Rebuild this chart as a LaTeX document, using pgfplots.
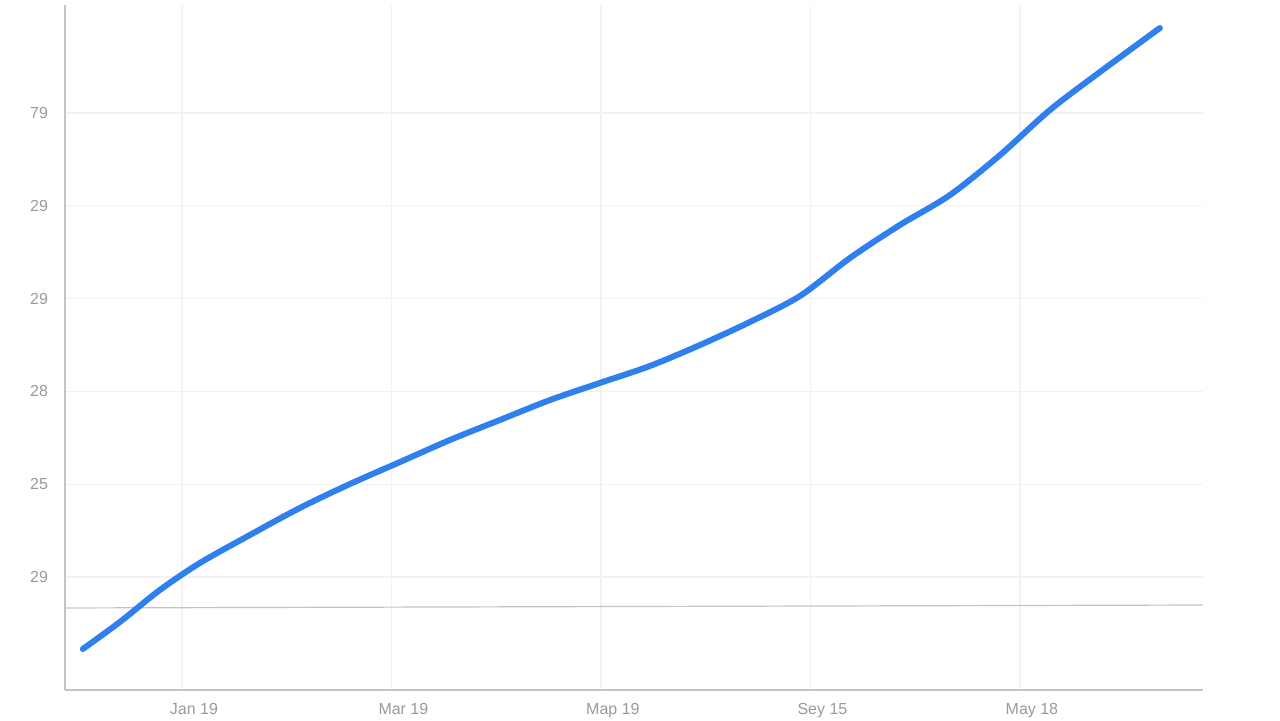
\documentclass[border=0pt]{standalone}
\usepackage{pgfplots}
\pgfplotsset{compat=1.18}
\usepackage{fontspec}
\setmainfont{Liberation Sans}
\definecolor{curveblue}{HTML}{2F80EE}
\definecolor{axisgray}{HTML}{C4C4C4}
\definecolor{gridgray}{HTML}{F2F2F2}
\definecolor{labelgray}{HTML}{9A9A9A}
\begin{document}
\begin{tikzpicture}
\useasboundingbox (0,0) rectangle (640pt,360pt);
\begin{axis}[
    at={(32.5pt,15pt)}, anchor=south west,
    scale only axis,
    width=569pt, height=342.5pt,
    xmin=-0.558, xmax=4.874,
    ymin=-1.218, ymax=6.164,
    axis x line*=bottom, axis y line*=left,
    axis line style={axisgray, line width=1pt, -},
    xtick={0,1,2,3,4},
    xticklabels={Jan 19, Mar 19, Map 19, Sey 15, May 18},
    ytick={0,1,2,3,4,5},
    yticklabels={29, 25, 28, 29, 29, 79},
    major tick length=0pt,
    tick label style={labelgray, font=\fontsize{8}{9}\selectfont},
    xticklabel style={yshift=-3pt, xshift=6pt},
    yticklabel style={xshift=-5pt},
    grid=major,
    major grid style={gridgray, line width=0.6pt},
    clip=false,
]
  % thin baseline just above the axis
  \addplot[axisgray, line width=0.6pt] coordinates {(-0.558,-0.334) (4.874,-0.302)};

  \addplot[curveblue, line width=3pt, smooth, line cap=round] coordinates {
    (-0.473,-0.776) (-0.296,-0.485) (-0.105,-0.140) (0.086,0.151)
    (0.325,0.453) (0.563,0.744) (0.802,1.002) (1.041,1.239)
    (1.279,1.476) (1.518,1.692) (1.757,1.907) (1.995,2.091)
    (2.234,2.274) (2.473,2.500) (2.711,2.748) (2.950,3.028)
    (3.189,3.438) (3.427,3.793) (3.666,4.116) (3.905,4.547)
    (4.143,5.032) (4.382,5.442) (4.668,5.916)
  };
\end{axis}
\end{tikzpicture}
\end{document}
